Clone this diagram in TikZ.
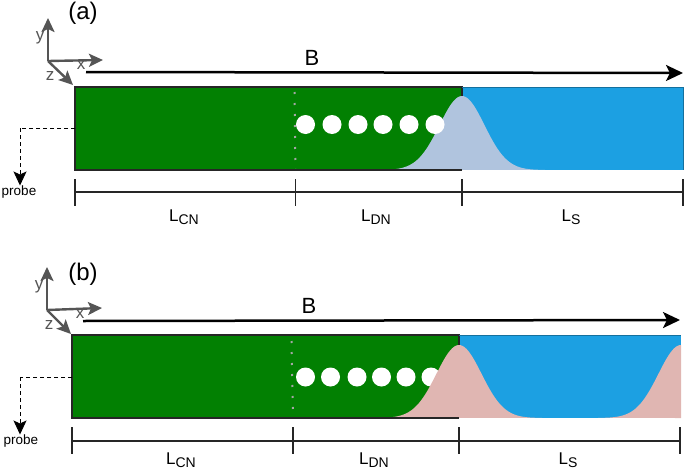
\documentclass[tikz,border=0pt]{standalone}
\usepackage{fontspec}
\setmainfont{Liberation Sans}
\usepackage{tikz}
\usetikzlibrary{arrows.meta}
\definecolor{cngreen}{HTML}{028002}
\definecolor{sblue}{HTML}{1CA0E2}
\definecolor{axisgray}{HTML}{555555}
\definecolor{peakblue}{HTML}{B0C4DE}
\definecolor{peakpink}{HTML}{E0B6B2}
\newcommand{\lenlabel}[1]{L\raisebox{-3pt}{\fontsize{14}{14}\selectfont #1}}
\tikzset{x=1pt, y=-1pt,
>={Stealth[length=14pt,width=13pt,inset=3pt]},
axis/.style={->, axisgray, line width=2.4pt}, % the x, y, z arrows
axislabel/.style={text=axisgray, font=\fontsize{17}{17}\selectfont, inner sep=0pt},
field/.style={->, line width=2.5pt, >={Stealth[length=17pt,width=16pt,inset=4pt]}}, % the long B arrow
panellabel/.style={font=\fontsize{24}{24}\selectfont, inner sep=0pt},
lengthlabel/.style={font=\fontsize{17}{17}\selectfont, inner sep=0pt},
tick/.style={draw=black!85, line width=1.2pt},
probeline/.style={line width=0.9pt, dash pattern=on 4pt off 3pt},
cutline/.style={black!35, line width=2pt, dash pattern=on 2pt off 9pt},
dot/.style={circle, fill=white, inner sep=0pt, minimum size=19pt},
}

\begin{document}
\begin{tikzpicture}
    \useasboundingbox (0,0) rectangle (685,471);
    % panel (a)
    \fill[cngreen] (75,87) rectangle (462,170);
    \fill[sblue] (462,87) rectangle (683,170);
    \draw[cutline] (294.5,92) -- (295.5,170);
    \fill[peakblue] plot[domain=380:545, samples=80] (\x,{170-74*exp(-0.5*((\x-462)/22.5)*((\x-462)/22.5))});
    \draw[black!85, line width=1.2pt] (462,170) -- (75,170) -- (75,87) -- (462,87) -- (462,96);
    \draw[sblue!70!black, line width=0.8pt] (462,87) -- (683,87) -- (683,170);
    \foreach \i/\px in {1/305.5, 2/332, 3/358, 4/383, 5/409, 6/435}
        \node[dot] (a\i) at (\px,124.5) {};
    \coordinate (ao) at (48,61);
    \coordinate (ay) at (48,18);
    \coordinate (ax) at (103,60);
    \coordinate (az) at (73,85);
    \draw[axis] (ao) -- (ay);
    \draw[axis] (ao) -- (ax);
    \draw[axis] (ao) -- (az);
    \node[axislabel] (aylabel) at (40,38) {y};
    \node[axislabel] (axlabel) at (81,65) {x};
    \node[axislabel] (azlabel) at (50,76) {z};
    \node[panellabel] (atitle) at (83,13) {(a)};
    \node[font=\fontsize{22}{22}\selectfont, inner sep=0pt] (ab) at (312,58) {B};
    \coordinate (abstart) at (86,72);
    \coordinate (abend) at (683,73);
    \draw[field] (abstart) -- (abend);
    \node[font=\fontsize{13.5}{13.5}\selectfont, inner sep=0pt] (aprobe) at (19,192) {probe};
    \coordinate (apstart) at (75,128);
    \coordinate (apbend) at (20,128);
    \draw[probeline] (apstart) -- (apbend);
    \draw[probeline, ->] (apbend) -- (aprobe.north -| apbend);
    \draw[tick] (75,192) -- (683,192);
    \foreach \px in {75, 295.5, 462, 683}
        \draw[tick] (\px,179) -- (\px,206);
    \node[lengthlabel] (alcn) at (184,217) {\lenlabel{CN}};
    \node[lengthlabel] (aldn) at (376,217) {\lenlabel{DN}};
    \node[lengthlabel] (als) at (571,217) {\lenlabel{S}};

    % panel (b)
    \fill[cngreen] (72,335) rectangle (459,418);
    \fill[sblue] (459,335) rectangle (681,418);
    \draw[cutline] (291.5,341) -- (293,418);
    \foreach \i/\px in {1/305.5, 2/330.5, 3/357, 4/381.5, 5/406, 6/431}
        \node[dot] (b\i) at (\px,377) {};
    \fill[peakpink] plot[domain=377:542, samples=80] (\x,{418-73*exp(-0.5*((\x-459)/22.5)*((\x-459)/22.5))});
    \fill[peakpink] plot[domain=598:681, samples=50] (\x,{418-73*exp(-0.5*((\x-681)/22.5)*((\x-681)/22.5))}) -- (681,418) -- cycle;
    \draw[black!85, line width=1.2pt] (459,418) -- (72,418) -- (72,335) -- (459,335) -- (459,345);
    \draw[sblue!70!black, line width=0.8pt] (459,335) -- (681,335);
    \coordinate (bo) at (47,310);
    \coordinate (by) at (47,267);
    \coordinate (bx) at (102,308);
    \coordinate (bz) at (71,334);
    \draw[axis] (bo) -- (by);
    \draw[axis] (bo) -- (bx);
    \draw[axis] (bo) -- (bz);
    \node[axislabel] (bylabel) at (39,287) {y};
    \node[axislabel] (bxlabel) at (80,314) {x};
    \node[axislabel] (bzlabel) at (49,325) {z};
    \node[panellabel] (btitle) at (83,274) {(b)};
    \node[font=\fontsize{22}{22}\selectfont, inner sep=0pt] (bb) at (309,306) {B};
    \coordinate (bbstart) at (83,321);
    \coordinate (bbend) at (680,320);
    \draw[field] (bbstart) -- (bbend);
    \node[font=\fontsize{13.5}{13.5}\selectfont, inner sep=0pt] (bprobe) at (21,441) {probe};
    \coordinate (bpstart) at (72,377);
    \coordinate (bpbend) at (20,377);
    \draw[probeline] (bpstart) -- (bpbend);
    \draw[probeline, ->] (bpbend) -- (bprobe.north -| bpbend);
    \draw[tick] (72,441) -- (680,441);
    \foreach \px in {72, 293, 459, 680}
        \draw[tick] (\px,427) -- (\px,454);
    \node[lengthlabel] (blcn) at (181,460) {\lenlabel{CN}};
    \node[lengthlabel] (bldn) at (374,460) {\lenlabel{DN}};
    \node[lengthlabel] (bls) at (568,460) {\lenlabel{S}};
  \end{tikzpicture}
\end{document}
